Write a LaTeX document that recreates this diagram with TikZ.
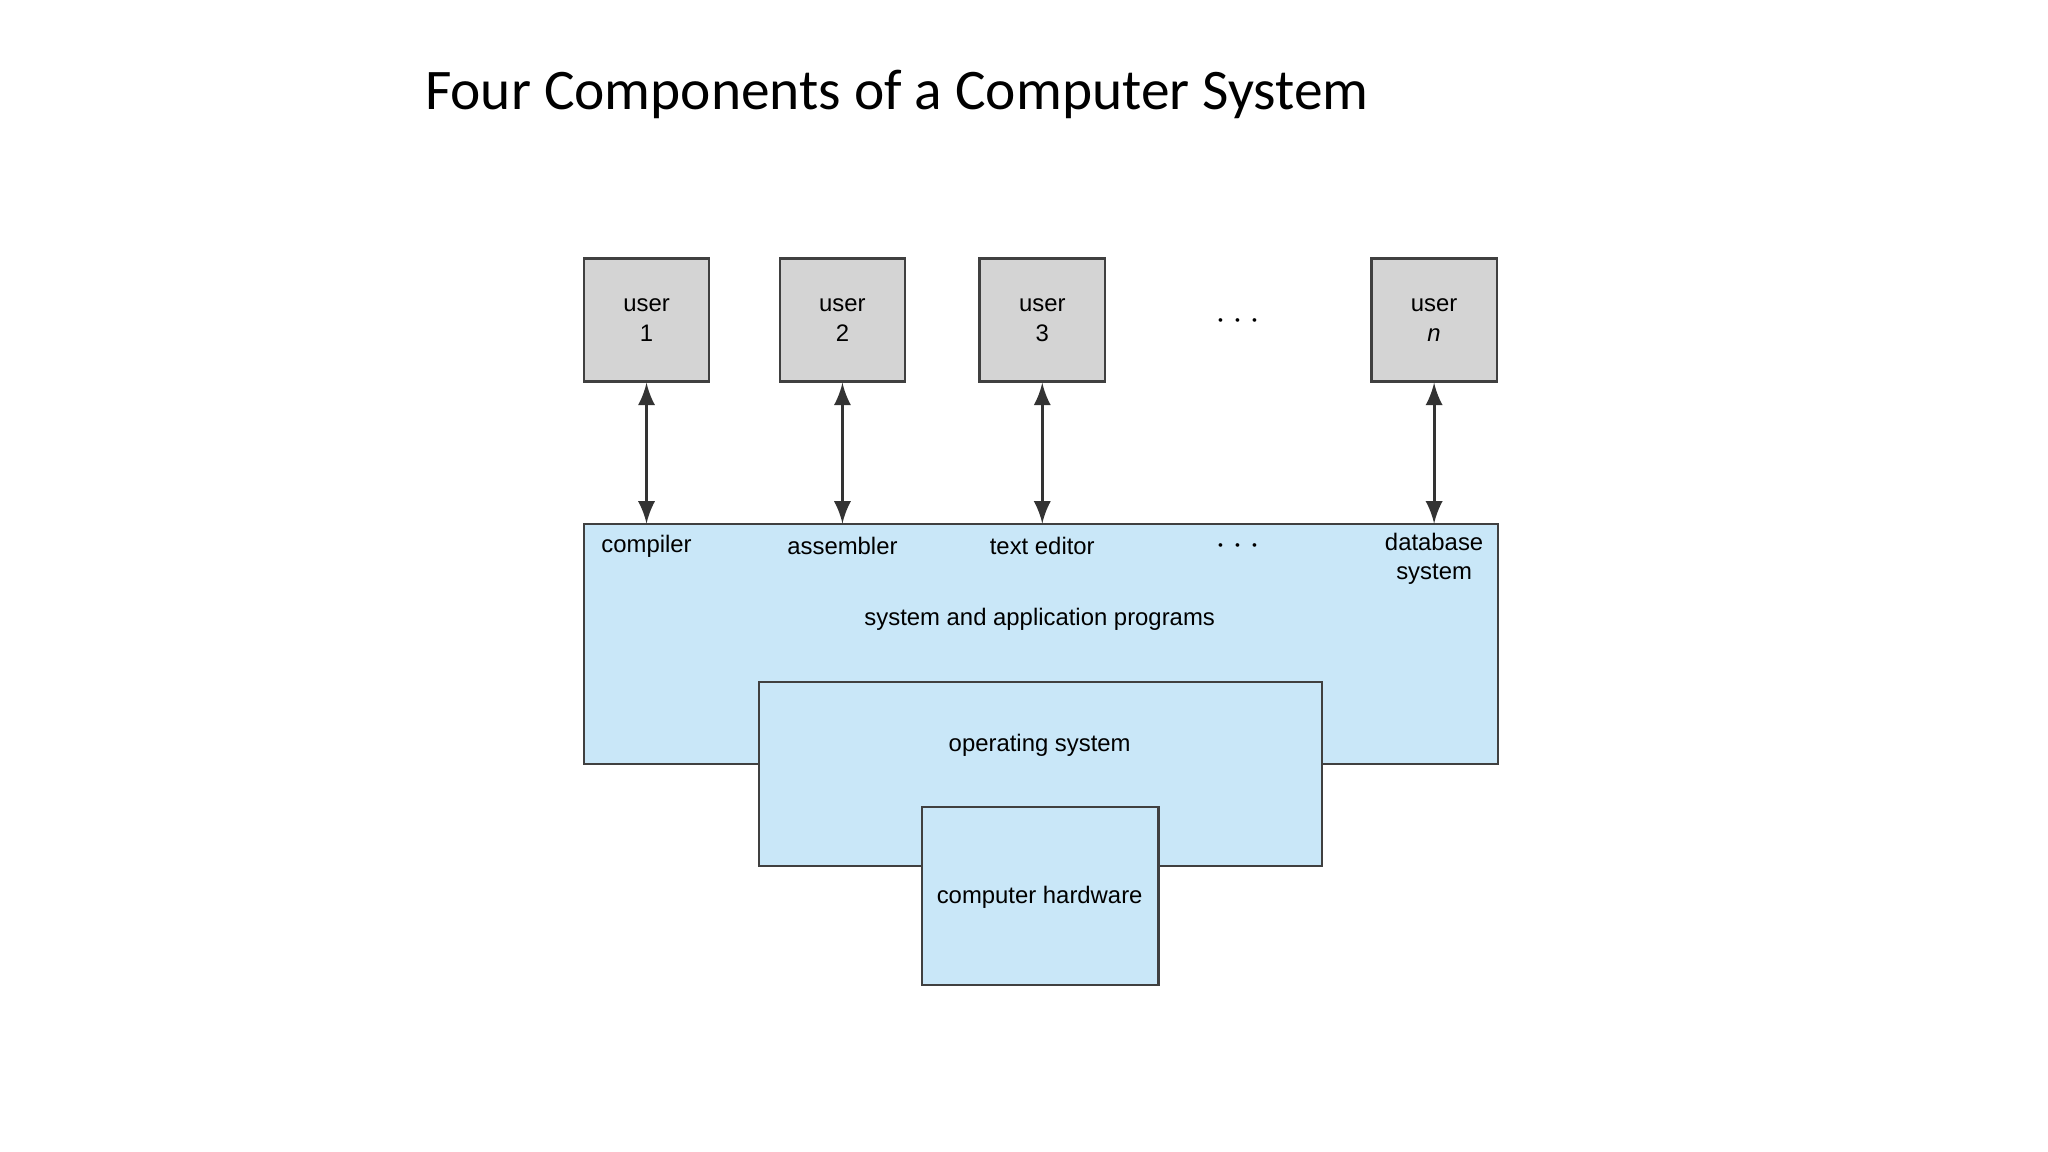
\documentclass[tikz,border=0pt]{standalone}
\usepackage{fontspec}
\setmainfont{Liberation Sans}
\newfontfamily\titlefont{Carlito}
\usetikzlibrary{positioning}
\definecolor{usergray}{HTML}{D4D4D4}
\definecolor{layerblue}{HTML}{C9E7F8}
\begin{document}
\begin{tikzpicture}[x=0.01cm,y=-0.01cm,
	userbox/.style={draw=black!75,fill=usergray,line width=0.5pt,minimum width=0.96cm,minimum height=0.94cm,inner sep=0pt,align=center,font=\fontsize{5.2}{6.4}\selectfont},
	layer/.style={draw=black!75,fill=layerblue,line width=0.5pt},
	lbl/.style={font=\fontsize{5.2}{6.4}\selectfont,align=center,inner sep=0pt}]
	\useasboundingbox (0,0) rectangle (1568,882);
	\node[anchor=west,font=\titlefont\fontsize{12.5}{15}\selectfont] (title) at (313,72) {Four Components of a Computer System};
	% layers
	\draw[layer] (447,401) rectangle (1147,585);
	\draw[layer] (581,522) rectangle (1012,663);
	\draw[layer] (706,618) rectangle (887,754);
	\node[lbl] (compiler) at (495,418) {compiler};
	\node[lbl] (assembler) at (645,418) {assembler};
	\node[lbl] (editor) at (798,418) {text editor};
	\node[lbl] (dbs) at (1098,428) {database\\system};
	\node[lbl] (apps) at (796,474) {system and application programs};
	\node[lbl] (os) at (796,571) {operating system};
	\node[lbl] (hw) at (796,687) {computer hardware};
	\node[lbl,font=\bfseries\fontsize{7}{8}\selectfont] (dots1) at (948,246) {$\cdots$};
	\node[lbl,font=\bfseries\fontsize{7}{8}\selectfont] (dots2) at (948,418) {$\cdots$};
	% users
	\foreach \name/\x/\txt in {u1/495/1, u2/645/2, u3/798/3, un/1098/\textit{n}}
	{\node[userbox] (\name) at (\x,245) {user\\\txt};
	 \coordinate (\name-top) at (\x,401);
	 \draw[latex-latex,line width=0.7pt,black!80] (\name.south) -- (\name-top);}
\end{tikzpicture}
\end{document}
